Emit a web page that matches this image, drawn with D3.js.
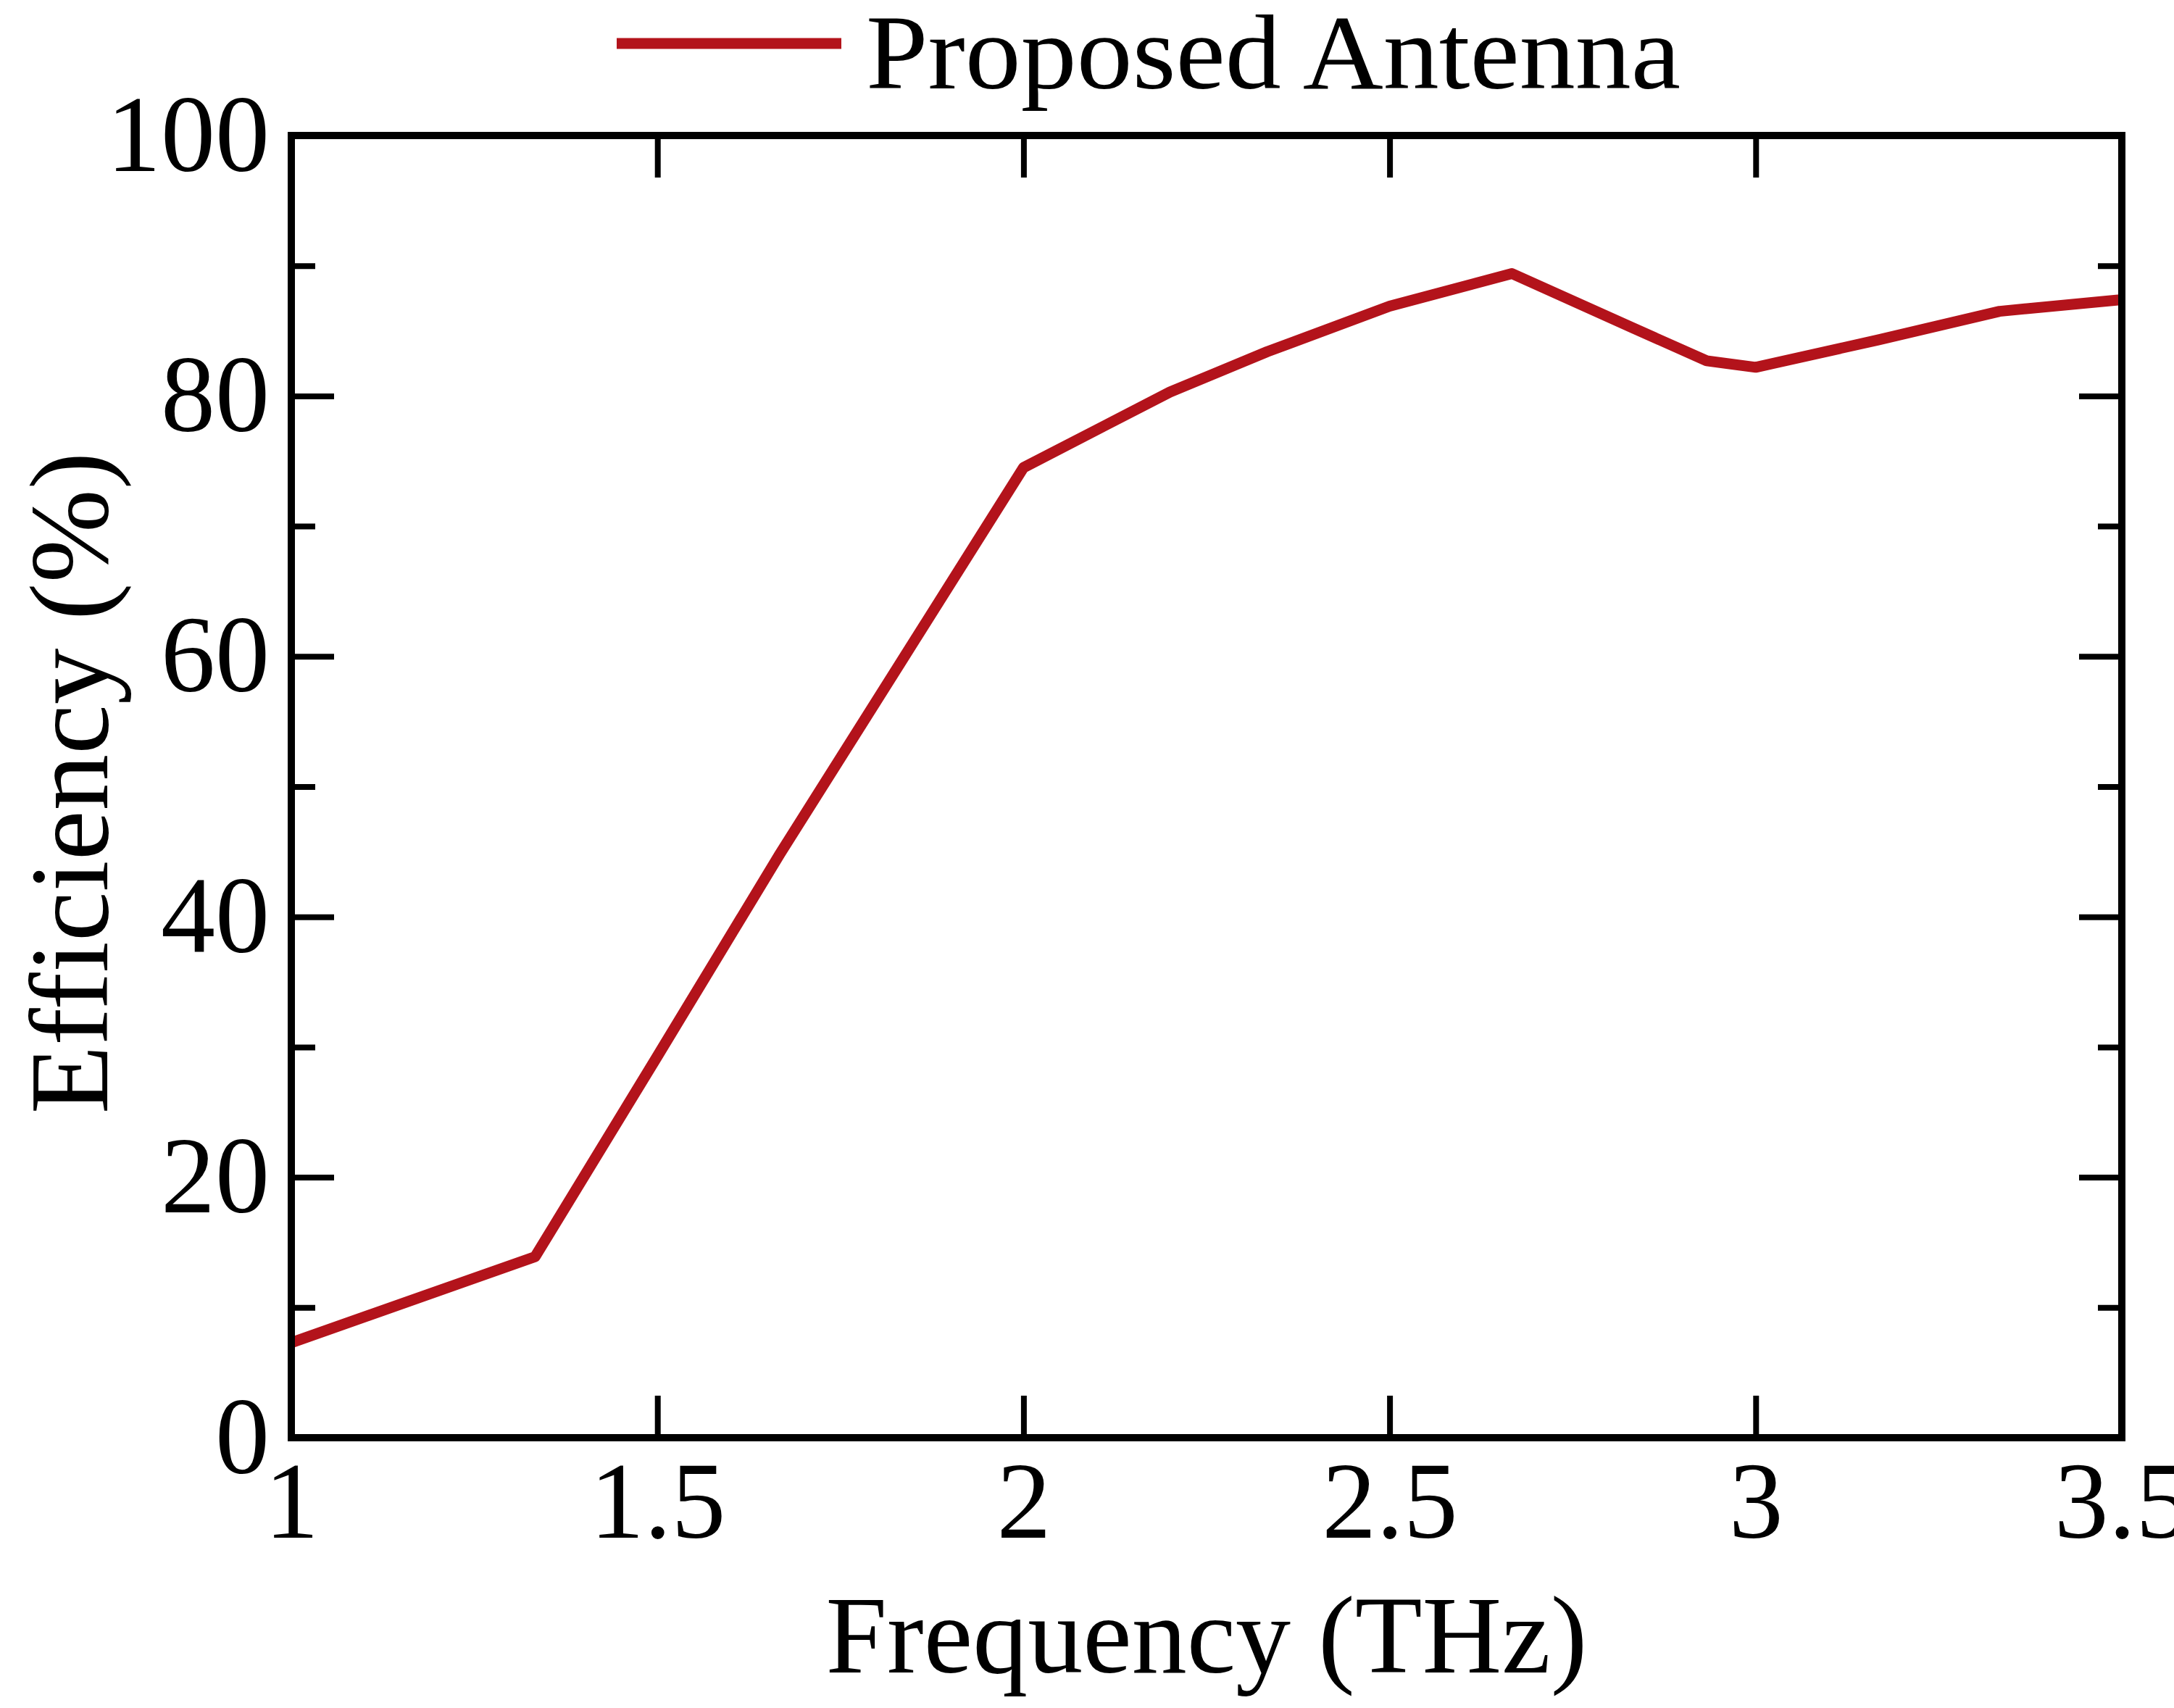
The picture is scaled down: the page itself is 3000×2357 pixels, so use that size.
<!DOCTYPE html>
<html>
<head>
<meta charset="utf-8">
<script src="https://cdn.jsdelivr.net/npm/d3@7"></script>
<style>
  body { margin: 0; background: #fff; }
  svg text { font-family: "Liberation Serif", "Times New Roman", serif; fill: #000; }
</style>
</head>
<body>
<svg id="chart" width="3000" height="2357"></svg>
<script>
// Werte
const frequency = [1.0, 1.333, 1.5, 1.667, 1.833, 2.0, 2.2, 2.333, 2.5, 2.667, 2.833, 2.933, 3.0, 3.167, 3.333, 3.5];
const efficiency = [7.3, 13.9, 29.3, 44.8, 59.6, 74.5, 80.3, 83.4, 86.9, 89.4, 85.2, 82.7, 82.2, 84.3, 86.5, 87.4];

const xTicks = [1, 1.5, 2, 2.5, 3, 3.5];
const xTickLabels = ["1", "1.5", "2", "2.5", "3", "3.5"];
const yTicks = [0, 20, 40, 60, 80, 100];
const yMinorTicks = [10, 30, 50, 70, 90];

const seriesName = "Proposed Antenna";
const xTitle = "Frequency (THz)";
const yTitle = "Efficiency (%)";

const lineColor = "#b3131b";

const svg = d3.select("#chart");
const margin = {left: 402, right: 72, top: 187, bottom: 373};
const W = 3000, H = 2357;

const x = d3.scaleLinear().domain([1, 3.5]).range([margin.left, W - margin.right]);
const y = d3.scaleLinear().domain([0, 100]).range([H - margin.bottom, margin.top]);

const fontSize = 150;

// Achsen mit nach innen zeigenden Ticks
const gBottom = svg.append("g")
    .attr("transform", "translate(0," + y(0) + ")")
    .call(d3.axisBottom(x).tickValues(xTicks).tickSize(-58).tickPadding(31)
        .tickFormat((d, i) => xTickLabels[i]));

const gTop = svg.append("g")
    .attr("transform", "translate(0," + y(100) + ")")
    .call(d3.axisTop(x).tickValues(xTicks).tickSize(-58).tickFormat(""));

const gLeft = svg.append("g")
    .attr("transform", "translate(" + x(1) + ",0)")
    .call(d3.axisLeft(y).tickValues(yTicks).tickSize(-59).tickPadding(30));

const gLeftMinor = svg.append("g")
    .attr("transform", "translate(" + x(1) + ",0)")
    .call(d3.axisLeft(y).tickValues(yMinorTicks).tickSize(-33).tickFormat(""));

const gRight = svg.append("g")
    .attr("transform", "translate(" + x(3.5) + ",0)")
    .call(d3.axisRight(y).tickValues(yTicks).tickSize(-59).tickFormat(""));

const gRightMinor = svg.append("g")
    .attr("transform", "translate(" + x(3.5) + ",0)")
    .call(d3.axisRight(y).tickValues(yMinorTicks).tickSize(-33).tickFormat(""));

[gBottom, gTop, gLeft, gLeftMinor, gRight, gRightMinor].forEach(g => {
    g.select(".domain").remove();
    g.selectAll(".tick line").attr("stroke", "#000").attr("stroke-width", 8);
    g.selectAll(".tick text")
        .attr("font-size", fontSize)
        .attr("font-family", "Liberation Serif, serif")
        .attr("fill", "#000");
});

// Datenlinie
const line = d3.line()
    .x((d, i) => x(frequency[i]))
    .y(d => y(d));

svg.append("path")
    .datum(efficiency)
    .attr("fill", "none")
    .attr("stroke", lineColor)
    .attr("stroke-width", 15)
    .attr("stroke-linejoin", "round")
    .attr("d", line);

// Rahmen
svg.append("rect")
    .attr("x", x(1))
    .attr("y", y(100))
    .attr("width", x(3.5) - x(1))
    .attr("height", y(0) - y(100))
    .attr("fill", "none")
    .attr("stroke", "#000")
    .attr("stroke-width", 10);

// Achsentitel
svg.append("text")
    .attr("x", (x(1) + x(3.5)) / 2)
    .attr("y", 2308)
    .attr("text-anchor", "middle")
    .attr("font-size", 152)
    .text(xTitle);

svg.append("text")
    .attr("transform", "translate(148," + ((y(0) + y(100)) / 2 - 5) + ") rotate(-90)")
    .attr("text-anchor", "middle")
    .attr("font-size", 155)
    .text(yTitle);

// Legende
svg.append("line")
    .attr("x1", 851).attr("x2", 1161)
    .attr("y1", 60).attr("y2", 60)
    .attr("stroke", lineColor)
    .attr("stroke-width", 15);

svg.append("text")
    .attr("x", 1195)
    .attr("y", 122)
    .attr("font-size", 146)
    .attr("textLength", 1124)
    .attr("lengthAdjust", "spacingAndGlyphs")
    .text(seriesName);
</script>
</body>
</html>
